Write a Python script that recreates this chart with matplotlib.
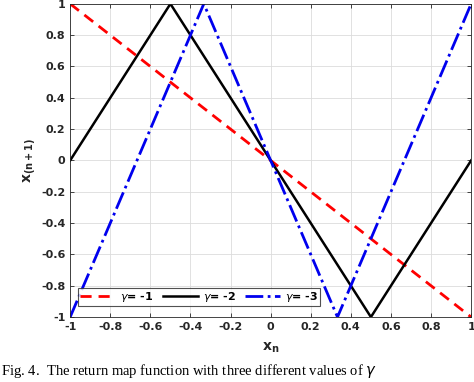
import numpy as np
import matplotlib
matplotlib.use('Agg')
import matplotlib.pyplot as plt

# data
x_g1 = [-1, 1]
y_g1 = [1, -1]
x_g2 = [-1, -0.5, 0.5, 1]
y_g2 = [0, 1, -1, 0]
x_g3 = [-1, -1/3, 1/3, 1]
y_g3 = [-1, 1, -1, 1]
ticks = [-1, -0.8, -0.6, -0.4, -0.2, 0, 0.2, 0.4, 0.6, 0.8, 1]
tick_labels = ['-1', '-0.8', '-0.6', '-0.4', '-0.2', '0', '0.2', '0.4', '0.6', '0.8', '1']

fig = plt.figure(figsize=(4.74, 3.82), dpi=100)
ax = fig.add_axes([0.148, 0.170, 0.846, 0.820])

ax.plot(x_g1, y_g1, 'r--', lw=2, dashes=(4, 2.5), label=r'$\gamma$= -1')
ax.plot(x_g2, y_g2, 'k-', lw=1.8, label=r'$\gamma$= -2')
ax.plot(x_g3, y_g3, color='#0000ee', ls='-.', lw=2, label=r'$\gamma$= -3')

ax.set_xlim(-1, 1)
ax.set_ylim(-1, 1)
ax.set_xticks(ticks)
ax.set_yticks(ticks)
ax.set_xticklabels(tick_labels, fontsize=8, fontweight='bold', color='#262626')
ax.set_yticklabels(tick_labels, fontsize=8, fontweight='bold', color='#262626')
ax.tick_params(direction='in', top=True, right=True, length=3, width=0.6, colors='#262626', labelcolor='#262626')
ax.grid(True, color='#dcdcdc', lw=0.6)
for s in ax.spines.values():
    s.set_color('#262626')
    s.set_linewidth(0.6)

ax.set_xlabel(r'$\mathbf{x}_{\mathbf{n}}$', fontsize=10, color='#262626', labelpad=6)
ax.set_ylabel(r'$\mathbf{x}_{\mathbf{(n+1)}}$', fontsize=10, color='#262626', labelpad=2)

leg = ax.legend(loc='lower left', bbox_to_anchor=(0.02, 0.035), ncol=3, fontsize=8,
                prop={'weight': 'bold', 'size': 8}, frameon=True, fancybox=False,
                handlelength=3.2, columnspacing=0.8, handletextpad=0.4,
                borderpad=0.2, borderaxespad=0)
leg.get_frame().set_edgecolor('#262626')
leg.get_frame().set_linewidth(0.8)

fig.text(0.002, 0.004, 'Fig. 4.  The return map function with three different values of $\\gamma$',
         family='Liberation Serif', fontsize=10.5, va='bottom', ha='left')

fig.savefig('out.png', dpi=100)
